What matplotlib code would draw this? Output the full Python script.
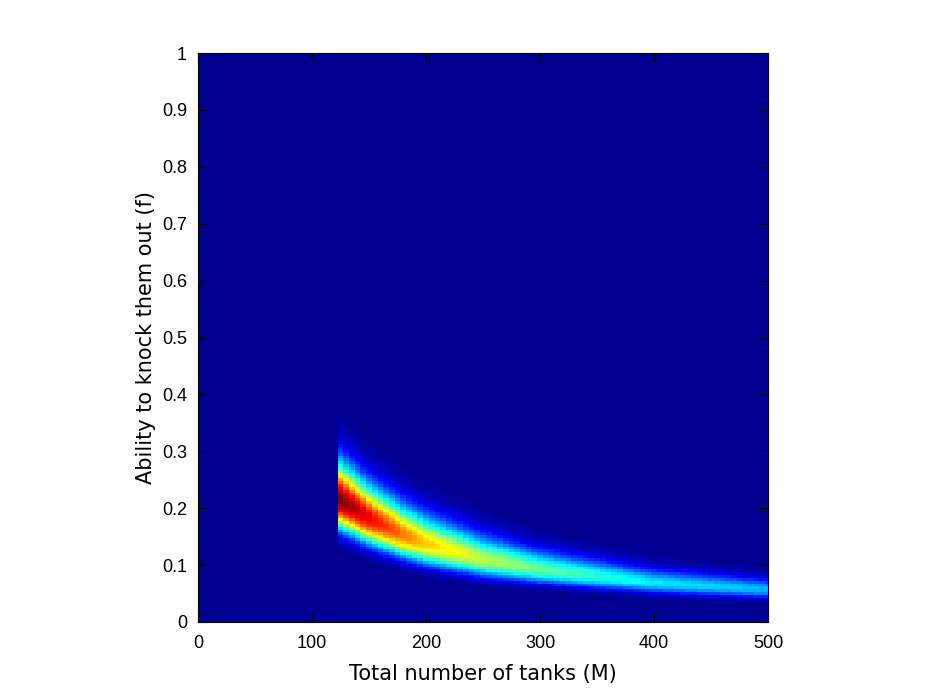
import numpy as np
import matplotlib
matplotlib.use("Agg")
import matplotlib.pyplot as plt
from matplotlib.colors import ListedColormap

# ridge of the likelihood surface at a few M columns
m_knots = [125, 150, 175, 200, 250, 300, 400, 500]
ridge_f = [0.215, 0.183, 0.158, 0.138, 0.111, 0.093, 0.069, 0.057]
log_width = [0.18, 0.19, 0.2, 0.21, 0.215, 0.21, 0.21, 0.21]
peak = [1.0, 0.88, 0.77, 0.67, 0.55, 0.47, 0.35, 0.30]
m_min = 122  # no mass below this M

m_step = 5
f_step = 0.005
m_grid = np.arange(0, 500 + m_step, m_step)
f_grid = np.arange(0, 1 + f_step / 2, f_step)

xticks = [0, 100, 200, 300, 400, 500]
yticks = [0, 0.1, 0.2, 0.3, 0.4, 0.5, 0.6, 0.7, 0.8, 0.9, 1]
ytick_labels = ["0", "0.1", "0.2", "0.3", "0.4", "0.5", "0.6", "0.7", "0.8", "0.9", "1"]

# surface: log-normal profile in f around the ridge for each M column
centre = np.interp(m_grid, m_knots, ridge_f)
width = np.interp(m_grid, m_knots, log_width)
height = np.interp(m_grid, m_knots, peak)
ff = np.maximum(f_grid[:, None], 1e-6)
z = height[None, :] * np.exp(-0.5 * (np.log(ff / centre[None, :]) / width[None, :]) ** 2)
z[:, m_grid < m_min] = 0.0

# MATLAB style jet(64)
x = (np.arange(64) + 1) / 64
jet64 = np.clip(np.stack([1.5 - np.abs(4 * x - 3),
                          1.5 - np.abs(4 * x - 2),
                          1.5 - np.abs(4 * x - 1)], axis=1), 0, 1)
cmap = ListedColormap(jet64)

fig = plt.figure(figsize=(9.34, 7), dpi=100)
ax = fig.add_axes([198 / 934, 1 - 622 / 700, 570 / 934, 569 / 700])
ax.imshow(z, origin="lower", cmap=cmap, vmin=0, vmax=z.max(), aspect="auto",
          interpolation="nearest",
          extent=[-m_step / 2, 500 + m_step / 2, -f_step / 2, 1 + f_step / 2])
ax.set_xlim(0, 500)
ax.set_ylim(0, 1)
ax.set_xticks(xticks)
ax.set_xticklabels([str(t) for t in xticks])
ax.set_yticks(yticks)
ax.set_yticklabels(ytick_labels)
ax.tick_params(direction="in", length=6, width=0.8, top=True, right=True, labelsize=13)
ax.tick_params(axis="x", pad=9)
ax.tick_params(axis="y", pad=8)
for lab in ax.get_xticklabels() + ax.get_yticklabels():
    lab.set_family("Liberation Sans")
for s in ax.spines.values():
    s.set_linewidth(0.8)

ax.set_xlabel("Total number of tanks (M)", fontsize=15, family="DejaVu Sans", labelpad=9)
ax.set_ylabel("Ability to knock them out (f)", fontsize=15, family="DejaVu Sans", labelpad=4)

fig.savefig("out.png", dpi=100)
